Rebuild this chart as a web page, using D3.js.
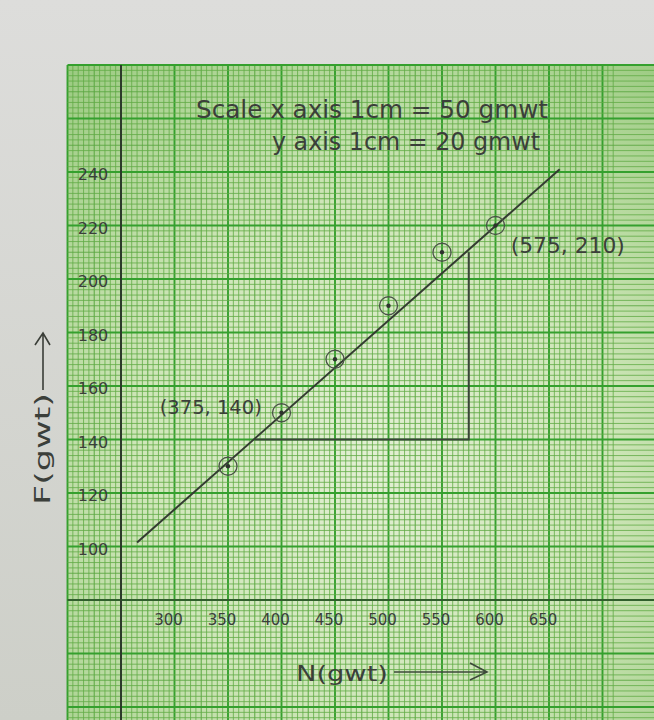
<!DOCTYPE html>
<html>
<head>
<meta charset="utf-8">
<script src="https://cdn.jsdelivr.net/npm/d3@7"></script>
<style>
  body { margin: 0; background: #d6d7d2; }
  svg { display: block; }
  .hand { font-family: "DejaVu Sans", sans-serif; fill: #3b3f3a; }
</style>
</head>
<body>
<div class="chart"></div>
<script>
// DATA ------------------------------------
const nValues = [350, 400, 450, 500, 550, 600];     // N (gwt)
const fValues = [130, 150, 170, 190, 210, 220];     // F (gwt)
const lineN = [265, 660];                            // best fit line ends
const lineF = [101.5, 241];
const triN = [375, 575, 575];                        // slope triangle
const triF = [140, 140, 210];
const xTicks = [300, 350, 400, 450, 500, 550, 600, 650];
const yTicks = [100, 120, 140, 160, 180, 200, 220, 240];

// CHART INIT ------------------------------
var width = 654, height = 720;
var cm = 53.5;

const x = d3.scaleLinear().domain([250, 650]).range([121, 121 + 8 * cm]);
const y = d3.scaleLinear().domain([80, 240]).range([600, 600 - 8 * cm]);

const svg = d3.select(".chart").append("svg")
    .attr("width", width)
    .attr("height", height);

const defs = svg.append("defs");
const bg = defs.append("linearGradient").attr("id", "bg")
    .attr("x1", 0).attr("y1", 0).attr("x2", 0).attr("y2", 1);
bg.append("stop").attr("offset", 0).attr("stop-color", "#dddddb");
bg.append("stop").attr("offset", 1).attr("stop-color", "#cdcfc8");

const paper = defs.append("radialGradient").attr("id", "paper")
    .attr("cx", 0.52).attr("cy", 0.6).attr("r", 0.78);
paper.append("stop").attr("offset", 0).attr("stop-color", "#e2efd3");
paper.append("stop").attr("offset", 0.5).attr("stop-color", "#cfe6b9");
paper.append("stop").attr("offset", 1).attr("stop-color", "#9ccb82");

svg.append("rect").attr("width", width).attr("height", height).attr("fill", "url(#bg)");

// paper sheet
svg.append("rect")
    .attr("x", x(200)).attr("y", y(280))
    .attr("width", width - x(200)).attr("height", height - y(280))
    .attr("fill", "url(#paper)");

// graph paper grid (1 mm = 5 gwt on x, 2 gwt on y)
const gx = d3.range(200, 715, 5);
const gy = d3.range(20, 282, 2);
function weight(v, step) {
    if (v % (step * 10) === 0) return "major";
    if (v % (step * 5) === 0) return "mid";
    return "minor";
}
const style = {
    minor: {w: 1, c: "#62ab46", o: 0.8},
    mid: {w: 1.15, c: "#58a63f", o: 0.85},
    major: {w: 1.9, c: "#35a02e", o: 1}
};

const grid = svg.append("g").attr("class", "grid");
grid.selectAll(".vline")
    .data(gx)
    .enter()
    .append("line")
    .attr("x1", d => x(d)).attr("x2", d => x(d))
    .attr("y1", y(280)).attr("y2", height)
    .attr("stroke", d => style[weight(d, 5)].c)
    .attr("stroke-opacity", d => style[weight(d, 5)].o)
    .attr("stroke-width", d => style[weight(d, 5)].w);
grid.selectAll(".hline")
    .data(gy)
    .enter()
    .append("line")
    .attr("x1", x(200)).attr("x2", width)
    .attr("y1", d => y(d)).attr("y2", d => y(d))
    .attr("stroke", d => style[weight(d, 2)].c)
    .attr("stroke-opacity", d => style[weight(d, 2)].o)
    .attr("stroke-width", d => style[weight(d, 2)].w);

// pencil axes
svg.append("line")
    .attr("x1", x(250)).attr("x2", x(250))
    .attr("y1", y(280)).attr("y2", height)
    .attr("stroke", "#2c3a2a").attr("stroke-width", 2);
svg.append("line")
    .attr("x1", x(200)).attr("x2", width)
    .attr("y1", y(80)).attr("y2", y(80))
    .attr("stroke", "#2f4a2c").attr("stroke-width", 1.6);

// tick labels (hand written)
svg.selectAll(".xlab")
    .data(xTicks)
    .enter()
    .append("text")
    .attr("class", "hand")
    .attr("x", d => x(d) - 6)
    .attr("y", y(80) + 25)
    .attr("text-anchor", "middle")
    .attr("font-size", 15)
    .attr("fill", "#5d655a")
    .text(d => d);

svg.selectAll(".ylab")
    .data(yTicks)
    .enter()
    .append("text")
    .attr("class", "hand")
    .attr("x", x(250) - 28)
    .attr("y", d => y(d) + 8)
    .attr("text-anchor", "middle")
    .attr("font-size", 16)
    .attr("fill", "#4b5548")
    .text(d => d);

// fitted line
svg.append("line")
    .attr("x1", x(lineN[0])).attr("y1", y(lineF[0]))
    .attr("x2", x(lineN[1])).attr("y2", y(lineF[1]))
    .attr("stroke", "#333b31").attr("stroke-width", 2);

// slope triangle
svg.append("path")
    .attr("d", d3.line()(triN.map((n, i) => [x(n), y(triF[i])])))
    .attr("fill", "none")
    .attr("stroke", "#3a4438").attr("stroke-width", 2);

// plotted points
const pts = nValues.map((n, i) => ({n: n, f: fValues[i]}));
svg.selectAll(".ring")
    .data(pts)
    .enter()
    .append("circle")
    .attr("cx", d => x(d.n)).attr("cy", d => y(d.f))
    .attr("r", 9)
    .attr("fill", "none")
    .attr("stroke", "#4a5347").attr("stroke-width", 1.3);
svg.selectAll(".dot")
    .data(pts)
    .enter()
    .append("circle")
    .attr("cx", d => x(d.n)).attr("cy", d => y(d.f))
    .attr("r", 2.2)
    .attr("fill", "#2e332d");

// annotations
svg.append("text").attr("class", "hand")
    .attr("x", x(575) + 42).attr("y", y(210) + 1)
    .attr("font-size", 21).attr("textLength", 114).attr("lengthAdjust", "spacingAndGlyphs")
    .text("(575, 210)");
svg.append("text").attr("class", "hand")
    .attr("x", x(375) - 95).attr("y", y(140) - 26)
    .attr("font-size", 19).attr("textLength", 102).attr("lengthAdjust", "spacingAndGlyphs")
    .attr("fill", "#687064")
    .text("(375, 140)");

// scale note
svg.append("text").attr("class", "hand")
    .attr("x", 196).attr("y", 118)
    .attr("font-size", 24).attr("textLength", 352).attr("lengthAdjust", "spacingAndGlyphs")
    .text("Scale  x axis 1cm = 50 gmwt");
svg.append("text").attr("class", "hand")
    .attr("x", 272).attr("y", 150)
    .attr("font-size", 24).attr("textLength", 268).attr("lengthAdjust", "spacingAndGlyphs")
    .text("y axis  1cm = 20 gmwt");

// axis titles
svg.append("text").attr("class", "hand")
    .attr("x", 296).attr("y", 681)
    .attr("font-size", 22).attr("textLength", 92).attr("lengthAdjust", "spacingAndGlyphs")
    .text("N(gwt)");
svg.append("path")
    .attr("d", "M394,672 L486,672 M470,663 L487,672 L470,680")
    .attr("fill", "none").attr("stroke", "#3d4a3a").attr("stroke-width", 1.6);

svg.append("text").attr("class", "hand")
    .attr("transform", "translate(50,505) rotate(-90)")
    .attr("font-size", 22).attr("textLength", 112).attr("lengthAdjust", "spacingAndGlyphs")
    .text("F(gwt)");
svg.append("path")
    .attr("d", "M43,390 L43,333 M35,345 L43,333 L50,345")
    .attr("fill", "none").attr("stroke", "#3a3e38").attr("stroke-width", 1.6);
</script>
</body>
</html>
